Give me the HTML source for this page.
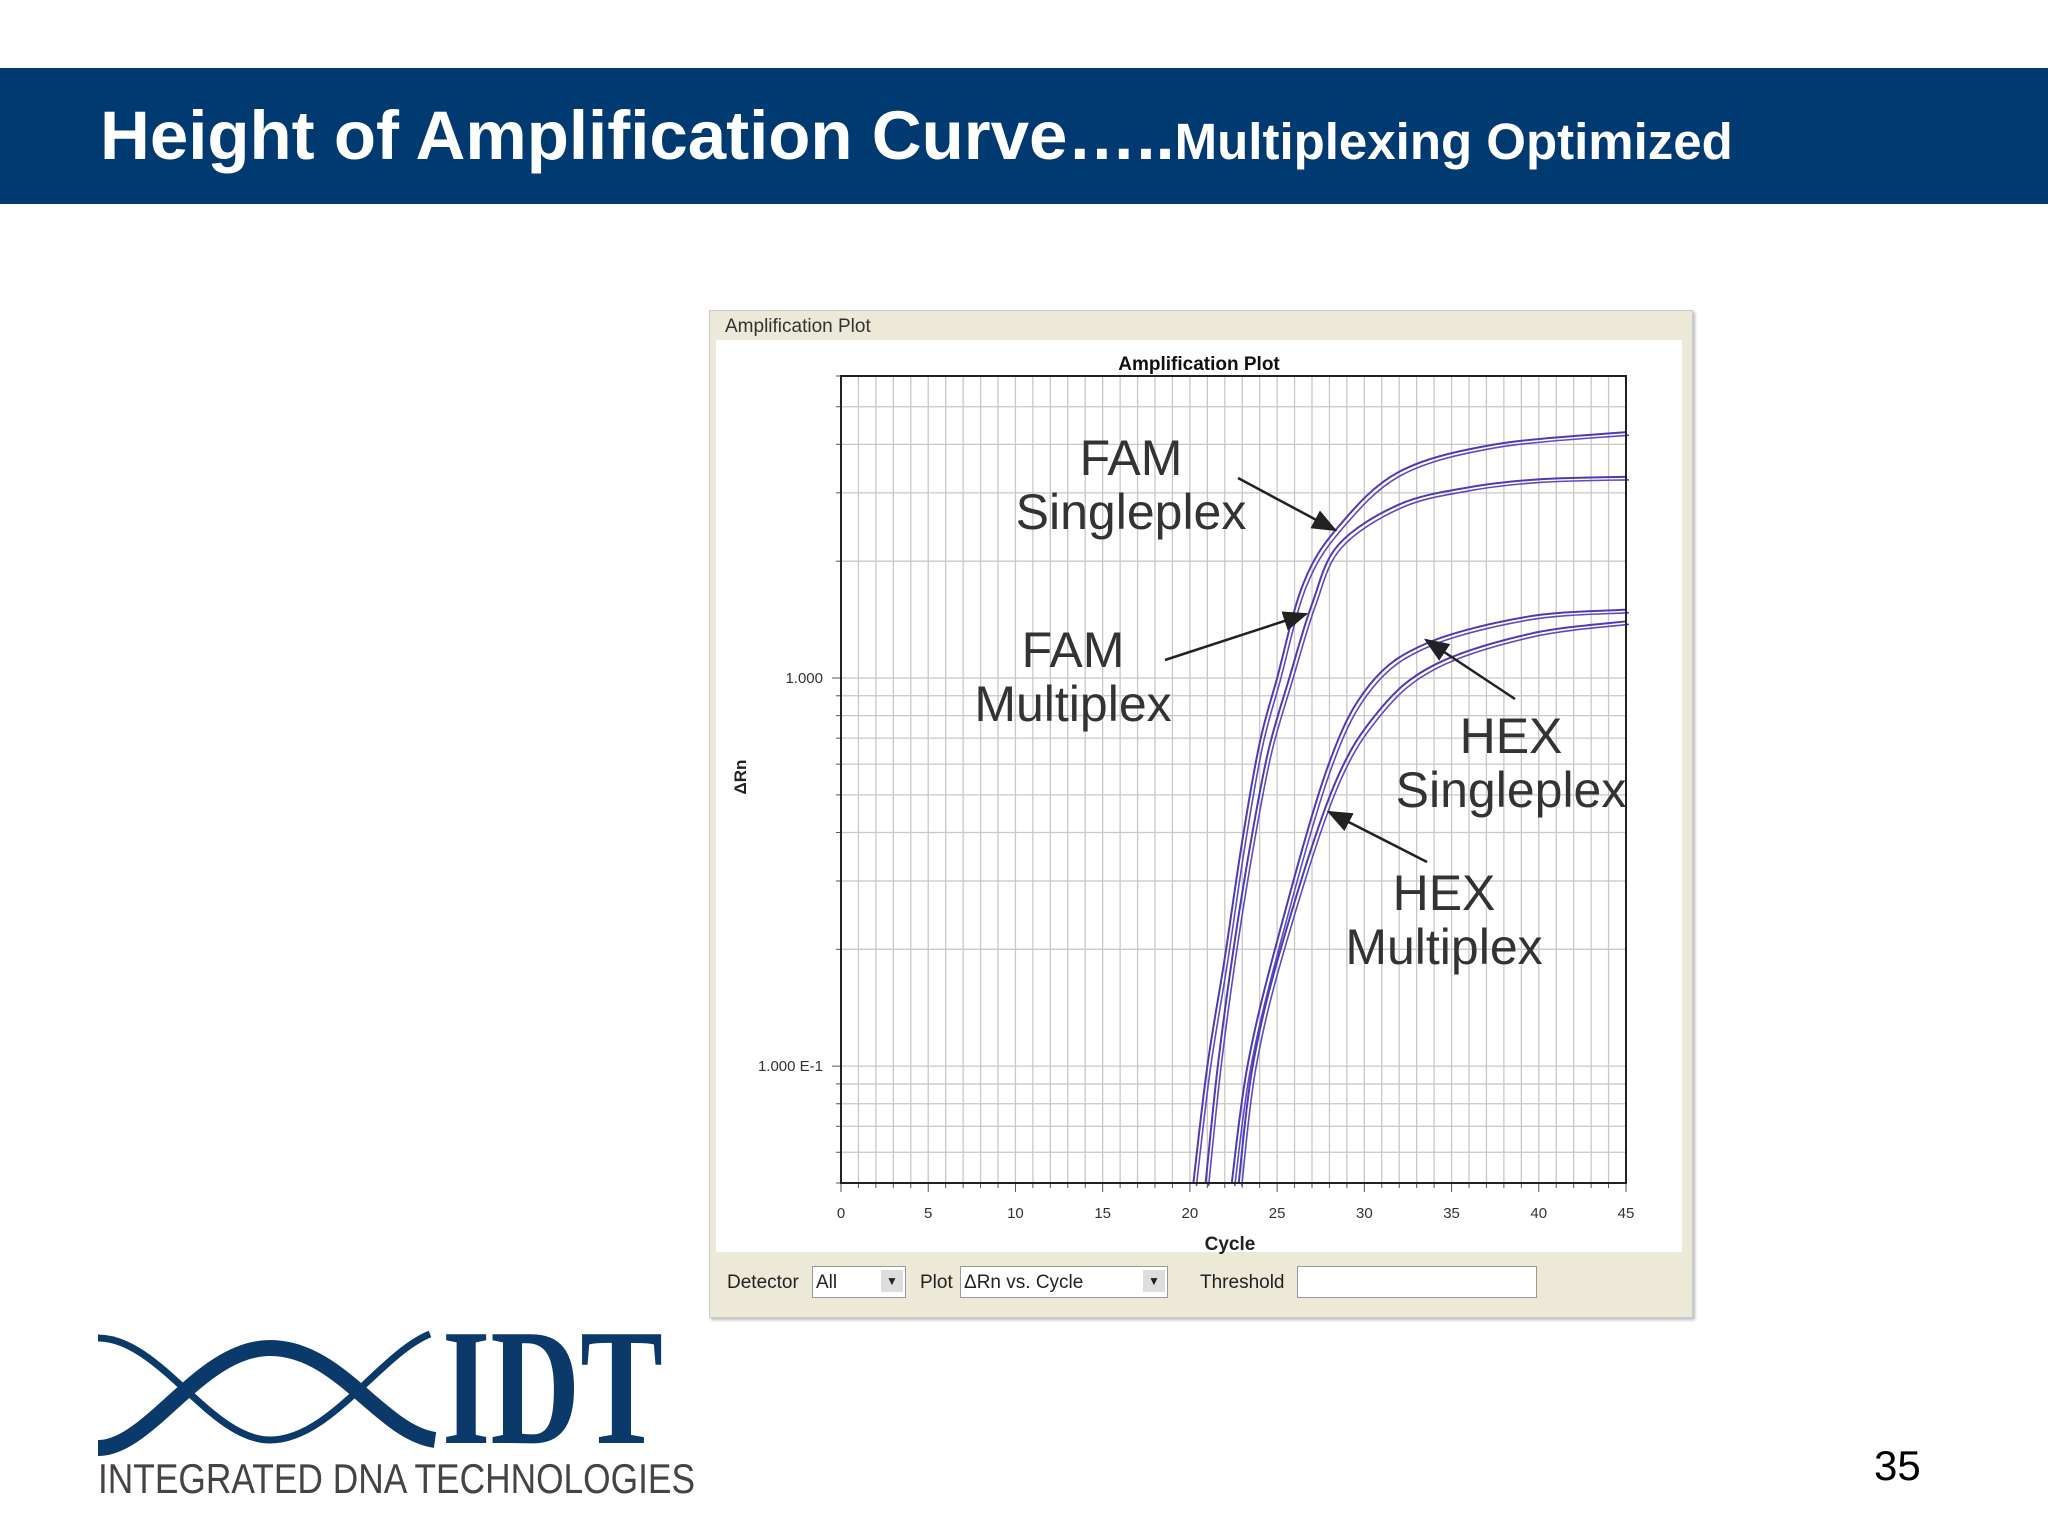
<!DOCTYPE html>
<html><head><meta charset="utf-8"><style>
body{margin:0;width:2048px;height:1536px;background:#fff;overflow:hidden;font-family:"Liberation Sans",sans-serif;position:relative}
.abs{position:absolute}
</style></head><body>
<div class="abs" style="left:0;top:68px;width:2048px;height:136px;background:#003a70"></div>
<div class="abs" style="left:100px;top:96px;color:#fff;font-weight:bold;font-size:69px;white-space:nowrap;line-height:80px">Height of Amplification Curve…..<span style="font-size:51px">Multiplexing Optimized</span></div>

<div class="abs" style="left:709px;top:310px;width:982px;height:1006px;background:#ece9d8;border:1px solid #ccc;box-shadow:2px 2px 3px #bbb"></div>
<div class="abs" style="left:716px;top:340px;width:966px;height:912px;background:#fff"></div>
<div class="abs" style="left:725px;top:316px;font-size:19px;color:#333">Amplification Plot</div>

<svg class="abs" style="left:0;top:0" width="2048" height="1536" id="chart">
<g id="grid"></g><g id="series"></g><g id="axes"></g><g id="notes"></g>
</svg>

<div class="abs" style="left:716px;top:1258px;width:966px;height:50px;font-size:19px;color:#222">
 <span class="abs" style="left:11px;top:14px">Detector</span>
 <div class="abs" style="left:96px;top:8px;width:92px;height:30px;background:#fff;border:1px solid #999"><span style="position:absolute;left:3px;top:5px">All</span><span style="position:absolute;right:2px;top:3px;width:22px;height:22px;background:#ddd;font-size:12px;text-align:center;line-height:22px">▼</span></div>
 <span class="abs" style="left:204px;top:14px">Plot</span>
 <div class="abs" style="left:244px;top:8px;width:206px;height:30px;background:#fff;border:1px solid #999"><span style="position:absolute;left:3px;top:5px">ΔRn vs. Cycle</span><span style="position:absolute;right:2px;top:3px;width:22px;height:22px;background:#ddd;font-size:12px;text-align:center;line-height:22px">▼</span></div>
 <span class="abs" style="left:484px;top:14px">Threshold</span>
 <div class="abs" style="left:581px;top:8px;width:238px;height:30px;background:#fff;border:1px solid #999"></div>
</div>

<svg class="abs" style="left:90px;top:1320px" width="620" height="190">
 <path d="M8,128 C60,128 110,28 180,28 C250,28 290,112 345,120" fill="none" stroke="#0b3a6a" stroke-width="16"/>
 <path d="M8,18 C70,18 120,120 180,120 C240,120 290,34 340,14" fill="none" stroke="#0b3a6a" stroke-width="7"/>
 <text x="352" y="123" font-family="Liberation Serif" font-weight="bold" font-size="166" fill="#0b3a6a" textLength="221" lengthAdjust="spacingAndGlyphs">IDT</text>
 <text x="8" y="173" font-size="42" fill="#444" textLength="597" lengthAdjust="spacingAndGlyphs">INTEGRATED DNA TECHNOLOGIES</text>
</svg>
<div class="abs" style="left:1874px;top:1442px;font-size:42px;color:#000">35</div>

<script>
const xTicks=[0,5,10,15,20,25,30,35,40,45];
const yTickVals=[1,0.1];
const yTickLabels=["1.000","1.000 E-1"];
const famSingleX=[20.2,21,22,23,24,25,26.5,28.5,32,37.5,45];
const famSingleY=[0.05,0.1,0.19,0.38,0.68,1.0,1.75,2.45,3.4,4.0,4.3];
const famMultiX=[20.9,21.6,22.5,23.5,24.5,25.7,27,28.5,32,36,40,45];
const famMultiY=[0.05,0.1,0.2,0.38,0.65,1.0,1.55,2.2,2.8,3.1,3.25,3.3];
const hexSingleX=[22.4,23.3,25,27.9,30.3,33.6,39.4,45];
const hexSingleY=[0.05,0.1,0.21,0.59,0.96,1.23,1.44,1.5];
const hexMultiX=[22.8,23.6,25.2,28.2,30.8,34,39.5,45];
const hexMultiY=[0.05,0.1,0.2,0.52,0.82,1.08,1.3,1.4];

const L=841,R=1626,T=376,B=1183,xMin=0,xMax=45,yMin=0.05,yMax=6;
const NS="http://www.w3.org/2000/svg";
const xs=v=>L+(v-xMin)/(xMax-xMin)*(R-L);
const ys=v=>B-(Math.log10(v)-Math.log10(yMin))/(Math.log10(yMax)-Math.log10(yMin))*(B-T);
function mk(tag,attrs,parent){const e=document.createElementNS(NS,tag);for(const k in attrs)e.setAttribute(k,attrs[k]);parent.appendChild(e);return e;}
const grid=document.getElementById('grid'),axes=document.getElementById('axes'),ser=document.getElementById('series'),notes=document.getElementById('notes');
for(let c=0;c<=45;c++){const l=mk('line',{x1:xs(c),x2:xs(c),y1:T,y2:B,stroke:'#c8c8c8','stroke-width':1.3},grid);
 mk('line',{x1:xs(c),x2:xs(c),y1:B,y2:B+(c%5?5:9),stroke:'#555'},axes);}
for(let d=-2;d<=0;d++)for(let m=1;m<10;m++){const v=m*Math.pow(10,d);if(v<yMin||v>yMax)continue;
 const l=mk('line',{x1:L,x2:R,y1:ys(v),y2:ys(v),stroke:'#c8c8c8','stroke-width':1.3},grid);
 mk('line',{x1:L-(m==1?9:5),x2:L,y1:ys(v),y2:ys(v),stroke:'#555'},axes);}
const fr=mk('rect',{x:L,y:T,width:R-L,height:B-T,fill:'none',stroke:'#222','stroke-width':2},axes);

xTicks.forEach(t=>{const e=mk('text',{x:xs(t),y:1218,'text-anchor':'middle','font-size':15,fill:'#333'},axes);e.textContent=t;});
yTickVals.forEach((v,i)=>{const e=mk('text',{x:823,y:ys(v)+5,'text-anchor':'end','font-size':15,fill:'#333'},axes);e.textContent=yTickLabels[i];});
let e=mk('text',{x:1230,y:1250,'text-anchor':'middle','font-size':19,'font-weight':'bold',fill:'#222'},axes);e.textContent='Cycle';
e=mk('text',{x:0,y:0,'text-anchor':'middle','font-size':17,'font-weight':'bold',fill:'#222',transform:'translate(746,777) rotate(-90)'},axes);e.textContent='ΔRn';
e=mk('text',{x:1199,y:370,'text-anchor':'middle','font-size':19,'font-weight':'bold',fill:'#111'},axes);e.textContent='Amplification Plot';
function curve(X,Y){const p=X.map((x,i)=>[xs(x),ys(Y[i])]);let d='M'+p[0][0]+','+p[0][1];
 for(let i=0;i<p.length-1;i++){const p0=p[Math.max(0,i-1)],p1=p[i],p2=p[i+1],p3=p[Math.min(p.length-1,i+2)];
 d+=' C'+(p1[0]+(p2[0]-p0[0])/6)+','+(p1[1]+(p2[1]-p0[1])/6)+' '+(p2[0]-(p3[0]-p1[0])/6)+','+(p2[1]-(p3[1]-p1[1])/6)+' '+p2[0]+','+p2[1];}return d;}
[[famSingleX,famSingleY,'fam-singleplex'],[famMultiX,famMultiY,'fam-multiplex'],[hexSingleX,hexSingleY,'hex-singleplex'],[hexMultiX,hexMultiY,'hex-multiplex']].forEach(s=>{
 const d=curve(s[0],s[1]);
 const a=mk('path',{d:d,fill:'none',stroke:'#4b3cb5','stroke-width':2},ser);
 const b=mk('path',{d:d,fill:'none',stroke:'#5a4cc0','stroke-width':1.6,transform:'translate(3,3)'},ser);
});
mk('defs',{},notes).innerHTML='<marker id="ah" markerWidth="10" markerHeight="8" refX="9" refY="4" orient="auto"><path d="M0,0 L10,4 L0,8z" fill="#222"/></marker>';
[['FAM','Singleplex',1131,457,1238,478,1335,530,'fam-singleplex'],['FAM','Multiplex',1073,649,1165,660,1306,614,'fam-multiplex'],['HEX','Singleplex',1511,735,1515,699,1426,640,'hex-singleplex'],['HEX','Multiplex',1444,892,1427,862,1329,812,'hex-multiplex']].forEach(a=>{
 const t=mk('text',{x:a[2],y:a[3]+18,'text-anchor':'middle','font-size':50,fill:'#333'},notes);
 
 mk('tspan',{x:a[2]},t).textContent=a[0];mk('tspan',{x:a[2],dy:54},t).textContent=a[1];
 const l=mk('line',{x1:a[4],y1:a[5],x2:a[6],y2:a[7],stroke:'#222','stroke-width':2.5,'marker-end':'url(#ah)'},notes);
 
});
</script>
</body></html>
